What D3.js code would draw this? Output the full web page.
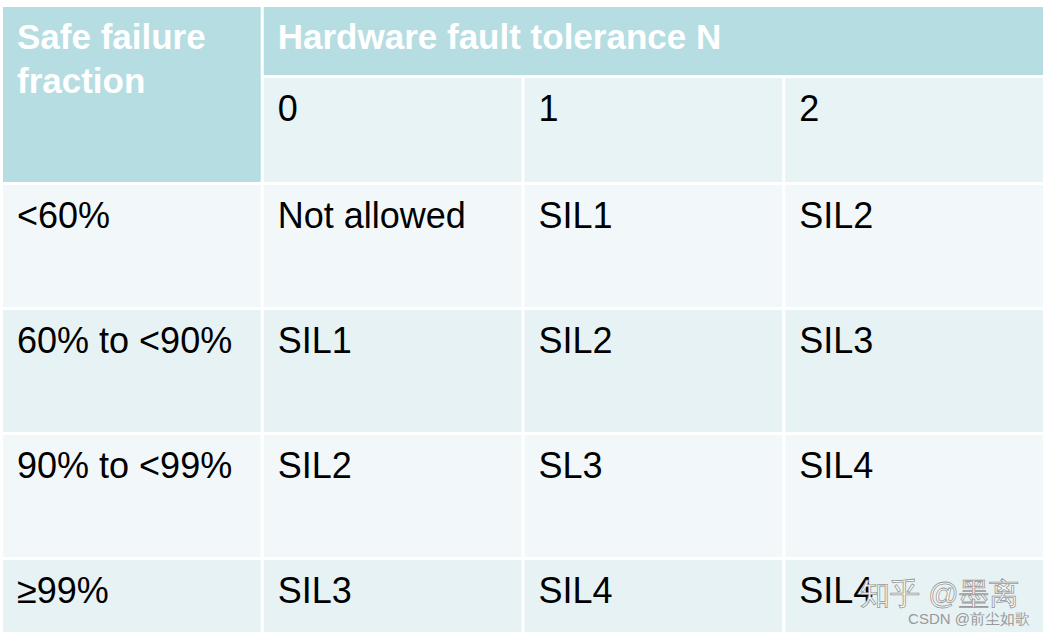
<!DOCTYPE html>
<html><head><meta charset="utf-8">
<script src="https://cdn.jsdelivr.net/npm/d3@7"></script>
<style>body{margin:0;background:#fff}text{font-family:"Liberation Sans",Arial,sans-serif}</style>
</head><body>
<svg width="1046" height="636"></svg>
<script>
const rowHeader = "Safe failure fraction";
const colHeader = "Hardware fault tolerance N";
const tolerances = ["0", "1", "2"];
const fractions = ["<60%", "60% to <90%", "90% to <99%", "≥99%"];
const levels = [
  ["Not allowed", "SIL1", "SIL2"],
  ["SIL1", "SIL2", "SIL3"],
  ["SIL2", "SL3", "SIL4"],
  ["SIL3", "SIL4", "SIL4"]
];

const svg = d3.select("svg");
const x = d3.scaleBand().domain([0, 1, 2, 3]).range([3, 1043]).paddingInner(0.0116);
const y = d3.scaleBand().domain([0, 1, 2, 3]).range([185, 682]).paddingInner(0.024);

function cell(x0, y0, w, h, fill) {
  svg.append("rect").attr("x", x0).attr("y", y0).attr("width", w).attr("height", h).attr("fill", fill);
}
function label(x0, y0, t, opts = {}) {
  svg.append("text").attr("x", x0 + 14).attr("y", y0).attr("font-size", opts.size || 36)
    .attr("font-weight", opts.bold ? "bold" : "normal").attr("fill", opts.fill || "#000").text(t);
}

// header
cell(x(0), 7, x.bandwidth(), 175, "#b6dde2");
cell(x(1), 7, x(3) + x.bandwidth() - x(1), 68, "#b6dde2");
label(x(0), 49, "Safe failure", { bold: true, fill: "#fff", size: 35 });
label(x(0), 93, "fraction", { bold: true, fill: "#fff", size: 35 });
label(x(1), 49, colHeader, { bold: true, fill: "#fff", size: 35 });
tolerances.forEach((t, i) => {
  cell(x(i + 1), 78, x.bandwidth(), 104, "#e7f3f5");
  label(x(i + 1), 121, t);
});

// body
fractions.forEach((f, r) => {
  const fill = r % 2 === 0 ? "#f2f8fa" : "#e7f2f4";
  const y0 = y(r), h = Math.min(y.bandwidth(), 632 - y0);
  [f, ...levels[r]].forEach((t, c) => {
    cell(x(c), y0, x.bandwidth(), h, fill);
    label(x(c), y0 + 43, t);
  });
});

// watermark
svg.append("text").attr("x", 860).attr("y", 604).attr("font-size", 30).attr("fill", "#fff")
  .attr("stroke", "#999").attr("stroke-width", 0.8).attr("font-family", "Noto Sans CJK SC").text("知乎 @墨离");
svg.append("text").attr("x", 1030).attr("y", 624).attr("text-anchor", "end").attr("font-size", 15)
  .attr("fill", "#999").attr("font-family", "Noto Sans CJK SC").text("CSDN @前尘如歌");
</script>
</body></html>
